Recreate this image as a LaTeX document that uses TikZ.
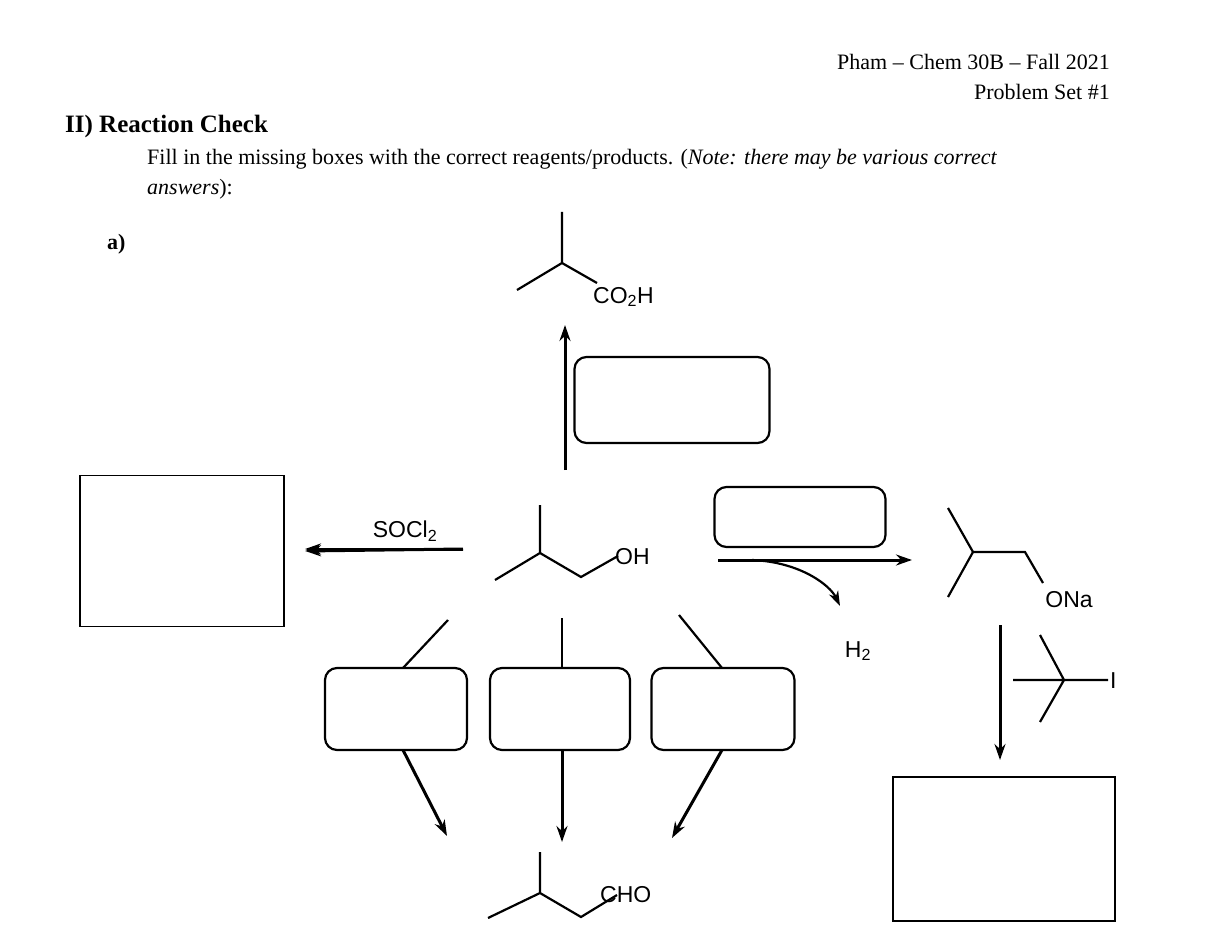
\documentclass[tikz,border=0pt]{standalone}
\usepackage{fontspec}
\setmainfont{Liberation Serif}
\newfontfamily\chemf{Liberation Sans}
\usetikzlibrary{arrows.meta}
\begin{document}
\begin{tikzpicture}[x=1pt,y=-1pt,
  bond/.style={line width=2.2pt},
  rbox/.style={draw,line width=2.2pt,rounded corners=12pt,inner sep=0pt},
  sbox/.style={draw,line width=1.8pt,inner sep=0pt},
  rx/.style={line width=3pt,-{Stealth[length=16pt,width=11pt]}},
  lab/.style={font=\chemf\fontsize{23}{26}\selectfont,inner sep=0pt},
  txt/.style={font=\fontsize{22}{26}\selectfont,inner sep=0pt}]
\useasboundingbox (0,0) rectangle (1210,944);
% header
\node[txt,anchor=base east] (h1) at (1110,70) {Pham -- Chem 30B -- Fall 2021};
\node[txt,anchor=base east] (h2) at (1110,100) {Problem Set \#1};
\node[txt,anchor=base west,font=\bfseries\fontsize{25}{28}\selectfont] (h3) at (65,133) {II) Reaction Check};
\node[txt,anchor=base west] (h4) at (147,165) {Fill in the missing boxes with the correct reagents/products. (\textit{Note: there may be various correct}};
\node[txt,anchor=base west] (h5) at (147,195) {\textit{answers}):};
\node[txt,anchor=base west,font=\bfseries\fontsize{22}{26}\selectfont] (h6) at (107,250) {a)};
% top acid
\draw[bond] (562,212) -- (562,263) (517,290) -- (562,263) -- (597,283);
\node[lab,anchor=west] (acid) at (593,297) {CO\textsubscript{2}H};
% up arrow + box
\coordinate (ua) at (565,470); \coordinate (ub) at (565,325);
\draw[rx] (ua) -- (ub);
\node[rbox,minimum width=195pt,minimum height=86pt] (b1) at (672,400) {};
% left
\node[sbox,minimum width=204pt,minimum height=151pt] (lb) at (182,551) {};
\coordinate (sa) at (463,549);
\draw[rx] (sa) -- (lb.east-|305,0);
\draw[rx] (sa) -- (305,549);
\node[lab] (socl) at (405,531) {SOCl\textsubscript{2}};
% central alcohol
\draw[bond] (540,505) -- (540,553) (495,580) -- (540,553) -- (581,577) -- (618,556);
\node[lab,anchor=west] (oh) at (615,557) {OH};
% right reaction
\node[rbox,minimum width=171pt,minimum height=60pt] (b2) at (800,517) {};
\coordinate (ra) at (718,560);
\draw[rx] (ra) -- (912,560);
\draw[line width=2.2pt,-{Stealth[length=15pt,width=10pt]}] (752,560) .. controls (800,562) and (830,585) .. (840,606);
\node[lab] (h2n) at (858,651) {H\textsubscript{2}};
% ONa
\draw[bond] (948,508) -- (973,552) -- (948,597) (973,552) -- (1025,552) -- (1043,583);
\node[lab] (ona) at (1069,600) {ONa};
% down arrow + tBuI
\coordinate (da) at (1000,625);
\draw[rx] (da) -- (1000,760);
\draw[bond] (1040,635) -- (1064,680) -- (1040,722) (1013,680) -- (1108,680);
\node[lab,anchor=west] (iod) at (1110,681) {I};
\node[sbox,minimum width=222pt,minimum height=144pt] (rb) at (1004,849) {};
% three boxes
\node[rbox,minimum width=142pt,minimum height=82pt] (c1) at (396,709) {};
\node[rbox,minimum width=140pt,minimum height=82pt] (c2) at (560,709) {};
\node[rbox,minimum width=143pt,minimum height=82pt] (c3) at (723,709) {};
\draw[bond] (448,620) -- (403,668);
\draw[rx] (403,750) -- (447,836);
\draw[bond] (562,618) -- (562,668);
\draw[rx] (562,750) -- (562,842);
\draw[bond] (679,615) -- (722,668);
\draw[rx] (722,750) -- (672,838);
% aldehyde
\draw[bond] (540,852) -- (540,893) (488,918) -- (540,893) -- (581,917) -- (617,895);
\node[lab,anchor=west] (cho) at (600,895) {CHO};
\end{tikzpicture}
\end{document}
